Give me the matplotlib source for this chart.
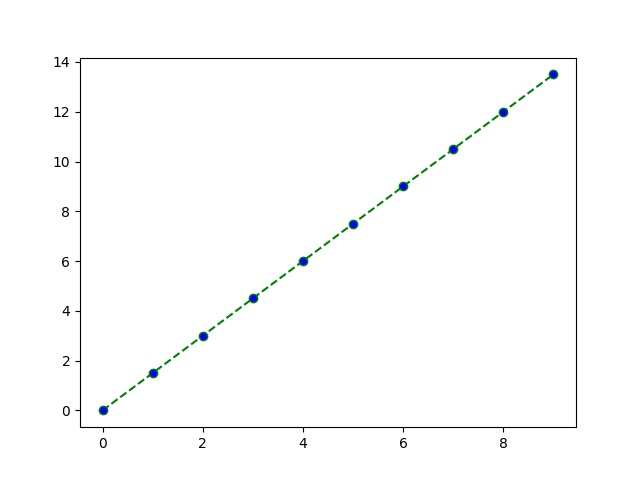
import matplotlib
matplotlib.use("Agg")
import matplotlib.pyplot as plt

x = [0, 1, 2, 3, 4, 5, 6, 7, 8, 9]
y = [0, 1.5, 3, 4.5, 6, 7.5, 9, 10.5, 12, 13.5]

fig, ax = plt.subplots(figsize=(6.4, 4.8), dpi=100)
ax.plot(x, y, color='green', linestyle='--', marker='o', markerfacecolor='blue', markeredgecolor='green', markersize=6)
fig.savefig("out.png")
